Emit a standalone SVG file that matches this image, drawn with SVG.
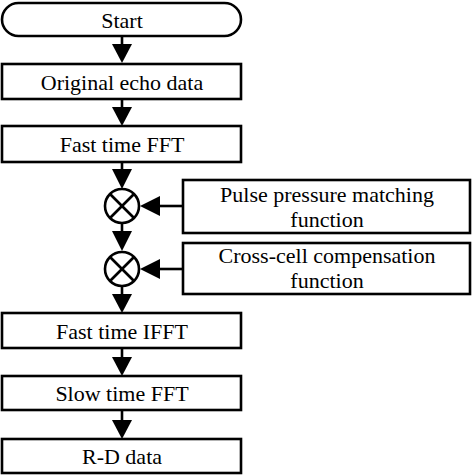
<svg xmlns="http://www.w3.org/2000/svg" width="474" height="476" viewBox="0 0 474 476">
<defs>
<style>
.box{fill:#fff;stroke:#000;stroke-width:2.6}
.t{font-family:'Liberation Serif','Times New Roman',serif;font-size:22px;fill:#000;text-anchor:middle}
.ln{stroke:#000;stroke-width:2.6;fill:none}
.ah{fill:#000;stroke:none}
</style>
</defs>
<rect width="474" height="476" fill="#fff"/>
<g id="connectors">
<line class="ln" x1="122" y1="36" x2="122" y2="50"/>
<polygon class="ah" points="112,44 132,44 122,63"/>
<line class="ln" x1="122" y1="99" x2="122" y2="113"/>
<polygon class="ah" points="112,107 132,107 122,126"/>
<line class="ln" x1="122" y1="162" x2="122" y2="175"/>
<polygon class="ah" points="112,169 132,169 122,189"/>
<line class="ln" x1="122" y1="223" x2="122" y2="236"/>
<polygon class="ah" points="112,231 132,231 122,251"/>
<line class="ln" x1="122" y1="286" x2="122" y2="298"/>
<polygon class="ah" points="112,294 132,294 122,313"/>
<line class="ln" x1="122" y1="348" x2="122" y2="362"/>
<polygon class="ah" points="112,357 132,357 122,376"/>
<line class="ln" x1="122" y1="410" x2="122" y2="424"/>
<polygon class="ah" points="112,420 132,420 122,439"/>
<line class="ln" x1="183" y1="206" x2="155" y2="206"/>
<polygon class="ah" points="160,196 160,216 140,206"/>
<line class="ln" x1="183" y1="269" x2="155" y2="269"/>
<polygon class="ah" points="160,259 160,279 140,269"/>
</g>
<g id="start">
<rect class="box" x="2" y="3" width="239" height="33" rx="16.5"/>
<text class="t" x="122" y="28">Start</text>
</g>
<g id="original">
<rect class="box" x="2" y="64" width="239" height="35"/>
<text class="t" x="122" y="90">Original echo data</text>
</g>
<g id="fastfft">
<rect class="box" x="2" y="126" width="239" height="36"/>
<text class="t" x="122" y="152">Fast time FFT</text>
</g>
<g id="mult1">
<circle class="box" cx="122" cy="206" r="17"/>
<line class="ln" x1="110" y1="194" x2="134" y2="218"/>
<line class="ln" x1="134" y1="194" x2="110" y2="218"/>
</g>
<g id="mult2">
<circle class="box" cx="122" cy="269" r="17"/>
<line class="ln" x1="110" y1="257" x2="134" y2="281"/>
<line class="ln" x1="134" y1="257" x2="110" y2="281"/>
</g>
<g id="pulse">
<rect class="box" x="183" y="180" width="287" height="53"/>
<text class="t" x="327" y="202">Pulse pressure matching</text>
<text class="t" x="327" y="227">function</text>
</g>
<g id="crosscell">
<rect class="box" x="183" y="243" width="287" height="51"/>
<text class="t" x="327" y="263">Cross-cell compensation</text>
<text class="t" x="327" y="288">function</text>
</g>
<g id="ifft">
<rect class="box" x="2" y="313" width="239" height="35"/>
<text class="t" x="122" y="339">Fast time IFFT</text>
</g>
<g id="slowfft">
<rect class="box" x="2" y="376" width="239" height="34"/>
<text class="t" x="122" y="401">Slow time FFT</text>
</g>
<g id="rd">
<rect class="box" x="2" y="439" width="239" height="34"/>
<text class="t" x="122" y="464">R-D data</text>
</g>
</svg>
